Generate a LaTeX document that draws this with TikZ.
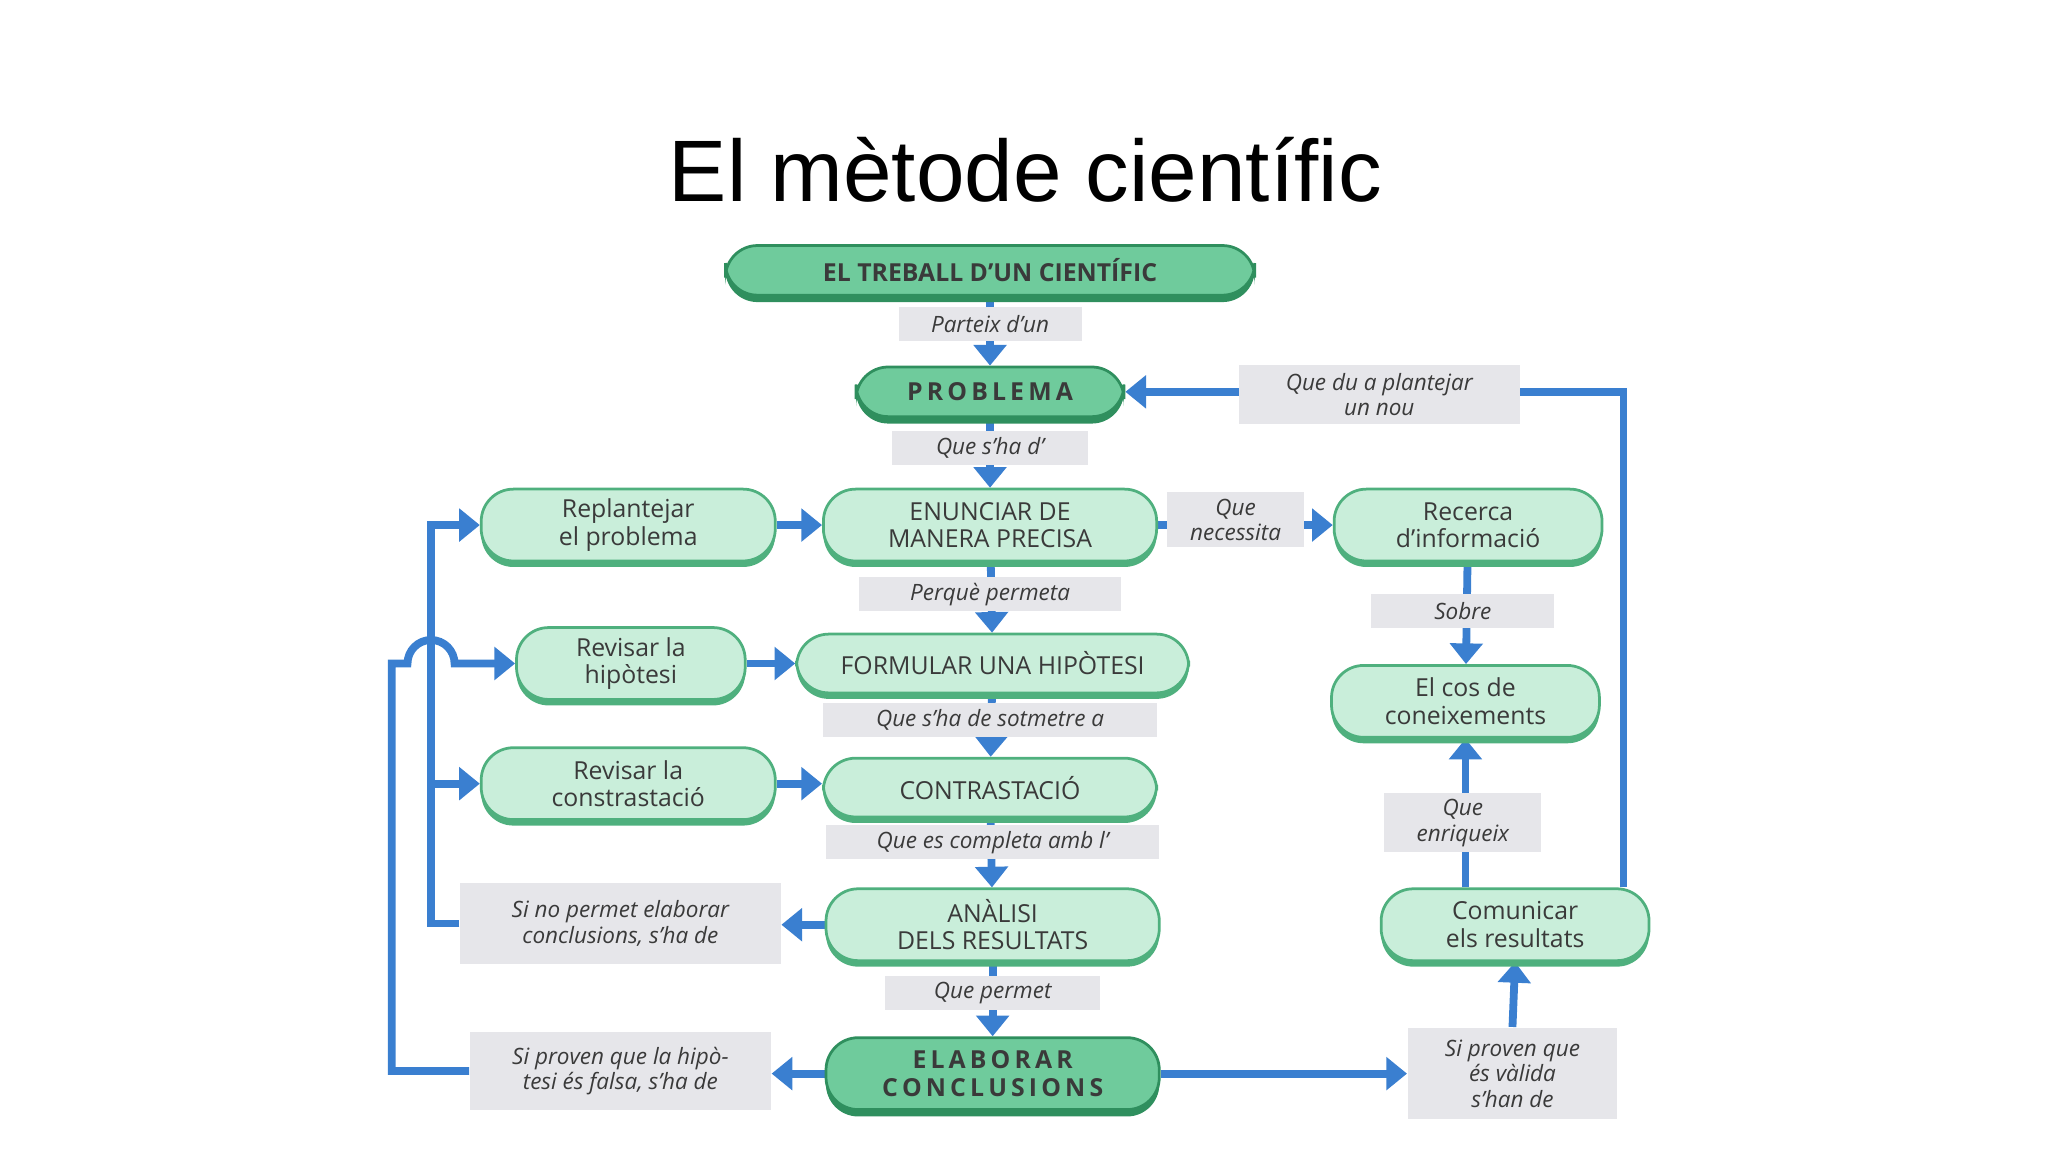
\documentclass[tikz,border=0pt]{standalone}
\usepackage{fontspec}
\setmainfont{Liberation Sans}
\newfontfamily\dfont{Open Sans}
\usetikzlibrary{arrows.meta,shadows,calc}
\definecolor{pillfill}{HTML}{C9EEDA}
\definecolor{pilledge}{HTML}{4FB07E}
\definecolor{mainfill}{HTML}{6FCB9C}
\definecolor{mainedge}{HTML}{2F8F5E}
\definecolor{lblfill}{HTML}{E6E6EA}
\definecolor{arrblue}{HTML}{3A7FD0}
\definecolor{txt}{HTML}{3A3A3A}
\pgfdeclarelayer{background}
\pgfsetlayers{background,main}
\tikzset{
  pill/.style={draw=pilledge, line width=0.6pt, fill=pillfill, rounded corners=7pt,
    align=center, font=\dfont\fontsize{5.4}{6}\selectfont, text=txt, inner sep=1pt,
    drop shadow={shadow xshift=0pt, shadow yshift=-1.3pt, fill=pilledge, opacity=1}},
  mainpill/.style={pill, fill=mainfill, draw=mainedge,
    drop shadow={shadow xshift=0pt, shadow yshift=-1.5pt, fill=mainedge, opacity=1},
    font=\dfont\bfseries\fontsize{5.4}{6}\selectfont},
  lbl/.style={fill=lblfill, align=center, text=txt, inner sep=1pt,
    font=\dfont\itshape\fontsize{4.9}{5.6}\selectfont},
  arr/.style={draw=arrblue, line width=1.7pt, -{Triangle[length=4.5pt,width=7pt]}},
  ln/.style={draw=arrblue, line width=1.7pt}
}
\begin{document}
\begin{tikzpicture}[x=0.01cm,y=-0.01cm]
\useasboundingbox (0,0) rectangle (1568,882);
\node[font=\fontsize{19}{22}\selectfont] (title) at (785,130) {El mètode científic};

\node[mainpill, minimum width=4.05cm, minimum height=0.38cm] (treball) at (758,207) {EL TREBALL D’UN CIENTÍFIC};
\node[mainpill, minimum width=2.05cm, minimum height=0.38cm] (problema) at (758,300) {P\,R\,O\,B\,L\,E\,M\,A};
\node[pill, minimum width=2.55cm, minimum height=0.55cm] (enunciar) at (758,402) {ENUNCIAR DE\\MANERA PRECISA};
\node[pill, minimum width=2.25cm, minimum height=0.55cm] (replan) at (481,402) {Replantejar\\el problema};
\node[pill, minimum width=2.05cm, minimum height=0.55cm] (recerca) at (1124,402) {Recerca\\d’informació};
\node[pill, minimum width=3.0cm, minimum height=0.45cm] (formular) at (760,508) {FORMULAR UNA HIPÒTESI};
\node[pill, minimum width=1.75cm, minimum height=0.55cm] (revhip) at (483,508) {Revisar la\\hipòtesi};
\node[pill, minimum width=2.05cm, minimum height=0.55cm] (cos) at (1122,537) {El cos de\\coneixements};
\node[pill, minimum width=2.55cm, minimum height=0.45cm] (contrast) at (758,603) {CONTRASTACIÓ};
\node[pill, minimum width=2.25cm, minimum height=0.55cm] (revcon) at (481,600) {Revisar la\\constrastació};
\node[pill, minimum width=2.55cm, minimum height=0.55cm] (analisi) at (760,708) {ANÀLISI\\DELS RESULTATS};
\node[pill, minimum width=2.05cm, minimum height=0.55cm] (comunicar) at (1160,708) {Comunicar\\els resultats};
\node[mainpill, minimum width=2.55cm, minimum height=0.55cm] (elaborar) at (760,822) {E\,L\,A\,B\,O\,R\,A\,R\\C\,O\,N\,C\,L\,U\,S\,I\,O\,N\,S};

\node[lbl, minimum width=1.4cm, minimum height=0.26cm] (l1) at (758,248) {Parteix d’un};
\node[lbl, minimum width=1.5cm, minimum height=0.26cm] (l2) at (758,343) {Que s’ha d’};
\node[lbl, minimum width=1.05cm, minimum height=0.42cm] (l3) at (946,398) {Que\\necessita};
\node[lbl, minimum width=2.0cm, minimum height=0.26cm] (l4) at (758,455) {Perquè permeta};
\node[lbl, minimum width=1.4cm, minimum height=0.26cm] (l5) at (1120,468) {Sobre};
\node[lbl, minimum width=2.55cm, minimum height=0.26cm] (l6) at (758,551) {Que s’ha de sotmetre a};
\node[lbl, minimum width=1.2cm, minimum height=0.45cm] (l7) at (1120,630) {Que\\enriqueix};
\node[lbl, minimum width=2.55cm, minimum height=0.26cm] (l8) at (760,645) {Que es completa amb l’};
\node[lbl, minimum width=1.65cm, minimum height=0.26cm] (l9) at (760,760) {Que permet};
\node[lbl, minimum width=2.45cm, minimum height=0.62cm] (sinopermet) at (475,707) {Si no permet elaborar\\conclusions, s’ha de};
\node[lbl, minimum width=2.3cm, minimum height=0.6cm] (falsa) at (475,820) {Si proven que la hipò-\\tesi és falsa, s’ha de};
\node[lbl, minimum width=1.6cm, minimum height=0.7cm] (valida) at (1158,822) {Si proven que\\és vàlida\\s’han de};
\node[lbl, minimum width=2.15cm, minimum height=0.45cm] (planteja) at (1056,302) {Que du a plantejar\\un nou};

\coordinate (rx) at (1243,300);
\coordinate (lx1) at (330,707);
\coordinate (lx2) at (300,820);

\begin{pgfonlayer}{background}
\draw[arr] (treball) -- (problema);
\draw[arr] (problema) -- (enunciar);
\draw[arr] (enunciar) -- (formular);
\draw[arr] (formular) -- (contrast);
\draw[arr] (contrast) -- (analisi);
\draw[arr] (analisi) -- (elaborar);
\draw[arr] (replan.east) -- (enunciar.west);
\draw[arr] (revhip.east) -- (formular.west);
\draw[arr] (revcon.east) -- (contrast.west |- revcon.east);
\draw[arr] (enunciar.east) -- (recerca.west);
\draw[arr] (recerca) -- (cos);
\draw[arr] (cos.south |- comunicar.north) -- (cos.south);
\draw[arr] (rx |- comunicar.north) -- (rx) -- (problema.east);
\draw[arr] (elaborar.east) -- (valida.west |- elaborar.east);
\draw[arr] (valida.north) -- (comunicar.south);
\draw[arr] (elaborar.west) -- (falsa.east |- elaborar.west);
\draw[arr] (analisi.west) -- (sinopermet.east |- analisi.west);
\draw[arr] (sinopermet.west) -- (lx1) |- (replan.west);
\draw[arr] (lx1 |- revcon.west) -- (revcon.west);
\draw[arr] (falsa.west) -- (lx2) |- (312,508) arc[start angle=180,end angle=0,radius=0.18cm] -- (revhip.west);
\end{pgfonlayer}
\end{tikzpicture}
\end{document}
